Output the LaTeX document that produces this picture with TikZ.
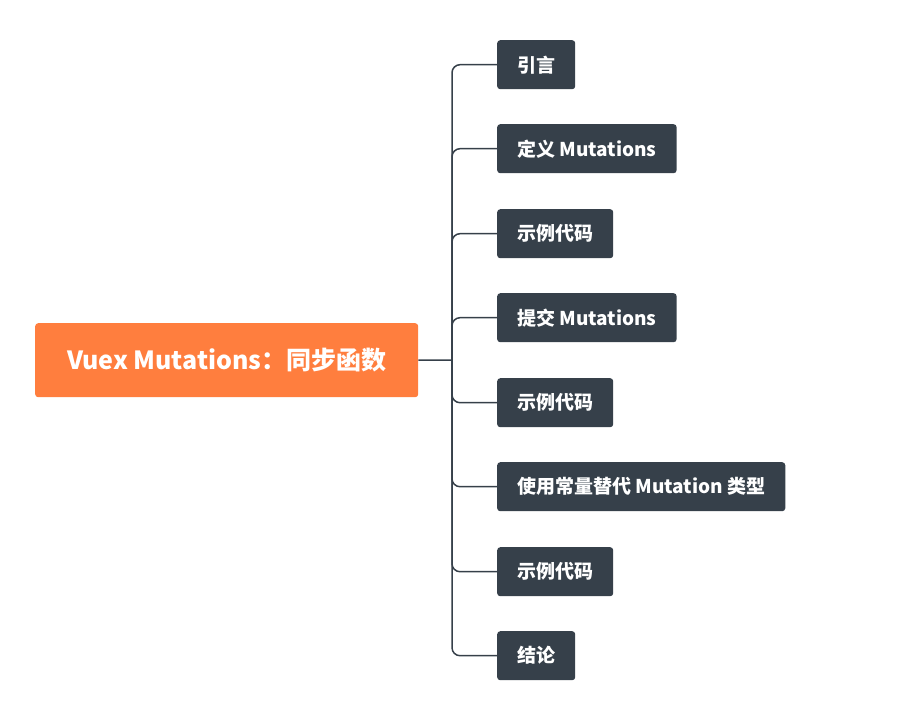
\documentclass[tikz,border=0pt]{standalone}
\usepackage{fontspec}
\setmainfont{Noto Sans CJK SC}
\begin{document}
\begin{tikzpicture}[x=1pt,y=-1pt,
  leaf/.style={fill=leafc,text=white,rounded corners=3pt,anchor=north west,minimum height=49pt,inner xsep=20pt,font=\fontsize{19}{22}\selectfont\bfseries},
  conn/.style={draw=linec,line width=1.5pt,rounded corners=8pt}]
\definecolor{leafc}{HTML}{36404A}
\definecolor{rootc}{HTML}{FF7E3E}
\definecolor{linec}{HTML}{36404A}
\useasboundingbox (0,0) rectangle (910,716);
\node[fill=rootc,text=white,rounded corners=3pt,anchor=north west,minimum width=383pt,minimum height=74pt,font=\fontsize{25}{30}\selectfont\bfseries] (root) at (35,323) {Vuex Mutations：同步函数};
\coordinate (sp) at (452,360);
\node[leaf] (a) at (497,40) {引言};
\node[leaf] (b) at (497,124) {定义 Mutations};
\node[leaf] (c) at (497,209) {示例代码};
\node[leaf] (d) at (497,293) {提交 Mutations};
\node[leaf] (e) at (497,378) {示例代码};
\node[leaf] (f) at (497,462) {使用常量替代 Mutation 类型};
\node[leaf] (g) at (497,547) {示例代码};
\node[leaf] (h) at (497,631) {结论};
\draw[conn] (root.east) -- (sp);
\foreach \n in {a,b,c,d,e,f,g,h}{\draw[conn] (sp) |- (\n.west);}
\end{tikzpicture}
\end{document}
